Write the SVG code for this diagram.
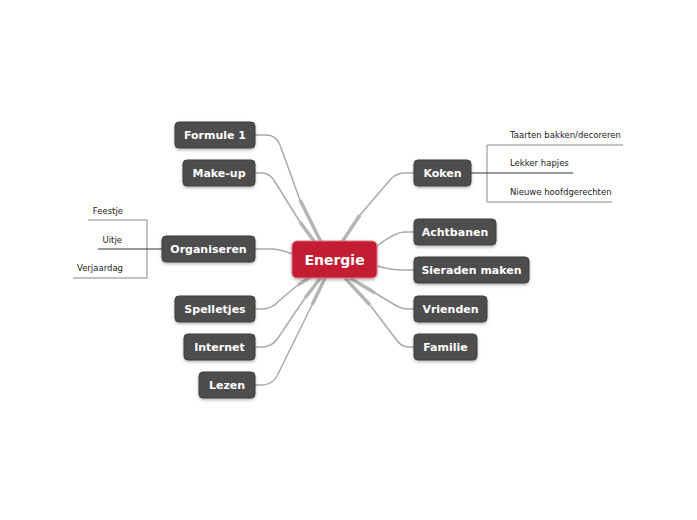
<svg xmlns="http://www.w3.org/2000/svg" width="697" height="520" viewBox="0 0 697 520">
<defs>
<style>
.n rect{fill:#4d4d4d;stroke:#3f3f3f;stroke-width:1}
.n text{fill:#fff;font-family:"DejaVu Sans",sans-serif;font-weight:bold;font-size:11px;text-anchor:middle}
.c path{fill:none;stroke:#aaaaaa;stroke-width:1.5}
.c path.t{stroke-width:3.5;stroke:#b5b5b5}
.s{font-family:"DejaVu Sans",sans-serif;font-size:8.5px;fill:#222}
.b{fill:none;stroke:#888;stroke-width:1}
</style>
<filter id="sh" x="-20%" y="-20%" width="140%" height="150%"><feDropShadow dx="0" dy="1.5" stdDeviation="1.5" flood-opacity="0.3"/></filter>
</defs>
<rect width="697" height="520" fill="#fff"/>
<g class="c" id="connectors">
<path class="t" d="M325 250 L300 200"/><path d="M300 200 L280 145 Q276 135 266 135 L255 135"/>
<path class="t" d="M322 252 L300 222"/><path d="M300 222 L275 182 Q270 173 262 173 L255 173"/>
<path d="M292 254 Q280 249 270 249 L255 249"/>
<path class="t" d="M318 272 L298 285"/><path d="M298 285 L280 300 Q272 309 262 309 L255 309"/>
<path class="t" d="M322 276 L305 298"/><path d="M305 298 L278 338 Q272 347 262 347 L255 347"/>
<path class="t" d="M326 276 L312 305"/><path d="M312 305 L277 376 Q272 385 262 385 L255 385"/>
<path class="t" d="M340 245 L360 215"/><path d="M360 215 L390 180 Q396 173 404 173 L414 173"/>
<path d="M377 246 Q395 232 405 232 L414 232"/>
<path d="M377 266 Q392 270 402 270 L414 270"/>
<path class="t" d="M350 278 L375 293"/><path d="M375 293 L395 305 Q402 309 408 309 L414 309"/>
<path class="t" d="M345 278 L370 305"/><path d="M370 305 L395 338 Q401 347 408 347 L414 347"/>
</g>
<g id="koken-sub">
<path class="b" d="M623 145 L487 145 L487 202 L612 202"/>
<path d="M471 173 L573 173" stroke="#333" stroke-width="1"/>
<text class="s" x="510" y="138">Taarten bakken/decoreren</text>
<text class="s" x="510" y="166">Lekker hapjes</text>
<text class="s" x="510" y="195">Nieuwe hoofdgerechten</text>
</g>
<g id="org-sub">
<path class="b" d="M88 220 L147 220 L147 278 L73 278"/>
<path d="M98 249 L162 249" stroke="#333" stroke-width="1"/>
<text class="s" x="123" y="214" text-anchor="end">Feestje</text>
<text class="s" x="122" y="243" text-anchor="end">Uitje</text>
<text class="s" x="123" y="271" text-anchor="end">Verjaardag</text>
</g>
<g id="energie"><rect x="292" y="241" width="85" height="37" rx="5" fill="#c41d33" stroke="#e0707e" filter="url(#sh)"/><text x="334.5" y="265" fill="#fff" font-family="DejaVu Sans,sans-serif" font-weight="bold" font-size="14" text-anchor="middle">Energie</text></g>
<g class="n" id="formule1"><rect x="175" y="122" width="80" height="26" rx="4" filter="url(#sh)"/><text x="215" y="139">Formule 1</text></g>
<g class="n" id="makeup"><rect x="183" y="160" width="72" height="26" rx="4" filter="url(#sh)"/><text x="219" y="177">Make-up</text></g>
<g class="n" id="organiseren"><rect x="162" y="236" width="93" height="26" rx="4" filter="url(#sh)"/><text x="208.5" y="253">Organiseren</text></g>
<g class="n" id="spelletjes"><rect x="175" y="296" width="80" height="26" rx="4" filter="url(#sh)"/><text x="215" y="313">Spelletjes</text></g>
<g class="n" id="internet"><rect x="184" y="334" width="71" height="26" rx="4" filter="url(#sh)"/><text x="219.5" y="351">Internet</text></g>
<g class="n" id="lezen"><rect x="199" y="372" width="56" height="26" rx="4" filter="url(#sh)"/><text x="227" y="389">Lezen</text></g>
<g class="n" id="koken"><rect x="414" y="160" width="57" height="26" rx="4" filter="url(#sh)"/><text x="442.5" y="177">Koken</text></g>
<g class="n" id="achtbanen"><rect x="414" y="219" width="82" height="26" rx="4" filter="url(#sh)"/><text x="455" y="236">Achtbanen</text></g>
<g class="n" id="sieraden"><rect x="414" y="257" width="115" height="26" rx="4" filter="url(#sh)"/><text x="471.5" y="274">Sieraden maken</text></g>
<g class="n" id="vrienden"><rect x="414" y="296" width="73" height="26" rx="4" filter="url(#sh)"/><text x="450.5" y="313">Vrienden</text></g>
<g class="n" id="familie"><rect x="414" y="334" width="63" height="26" rx="4" filter="url(#sh)"/><text x="445.5" y="351">Familie</text></g>
</svg>
